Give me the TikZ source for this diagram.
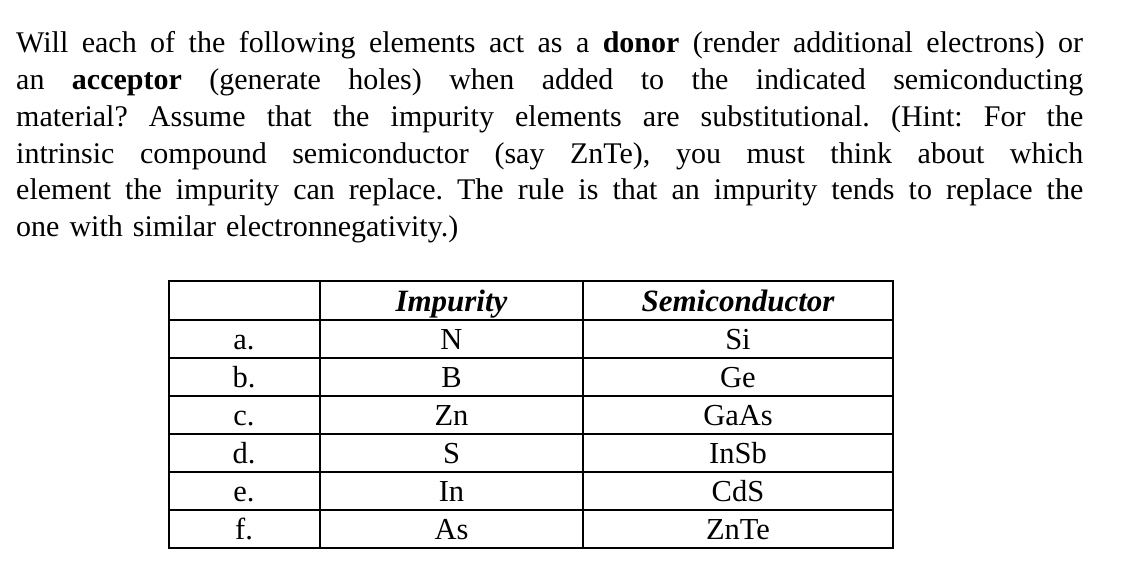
\documentclass[tikz,border=0pt]{standalone}
\usepackage{fontspec}
\setmainfont{Liberation Serif}
\frenchspacing
\begin{document}
\begin{tikzpicture}[x=1pt,y=-1pt,
  para/.style={anchor=base west,inner sep=0pt,text width=1067pt,font=\fontsize{30}{37}\selectfont\frenchspacing,align=justify},
  cell/.style={anchor=base,inner sep=0pt,font=\fontsize{30.5}{32}\selectfont},
  head/.style={cell,font=\fontsize{31}{32}\selectfont\bfseries\itshape},
  grid/.style={line width=1.5pt}]
\useasboundingbox (0,0) rectangle (1148,566);
\node[para] (l1) at (16,52) {\parfillskip=0pt Will each of the following elements act as a \textbf{donor} (render additional electrons) or\par};
\node[para] (l2) at (16,89) {\parfillskip=0pt an \textbf{acceptor} (generate holes) when added to the indicated semiconducting\par};
\node[para] (l3) at (16,126) {\parfillskip=0pt material? Assume that the impurity elements are substitutional. (Hint: For the\par};
\node[para] (l4) at (16,163) {\parfillskip=0pt intrinsic compound semiconductor (say ZnTe), you must think about which\par};
\node[para] (l5) at (16,199) {\parfillskip=0pt element the impurity can replace. The rule is that an impurity tends to replace the\par};
\node[para,align=left] (l6) at (16,236) {one with similar electronnegativity.)};
\draw[grid] (169,281) rectangle (893,548);
\foreach \y in {320,358,396,434,472,510} \draw[grid] (169,\y) -- (893,\y);
\draw[grid] (320,281) -- (320,548);
\draw[grid] (583,281) -- (583,548);
\node[head] (h1) at (451.5,311) {Impurity};
\node[head] (h2) at (738,311) {Semiconductor};
\foreach \lab/\imp/\sem [count=\i] in {a./N/Si,b./B/Ge,c./Zn/GaAs,d./S/InSb,e./In/CdS,f./As/ZnTe}{
  \pgfmathsetmacro{\yb}{320+38*\i-9}
  \node[cell] (r\i a) at (244,\yb) {\lab};
  \node[cell] (r\i b) at (451.5,\yb) {\imp};
  \node[cell] (r\i c) at (738,\yb) {\sem};
}
\end{tikzpicture}
\end{document}
